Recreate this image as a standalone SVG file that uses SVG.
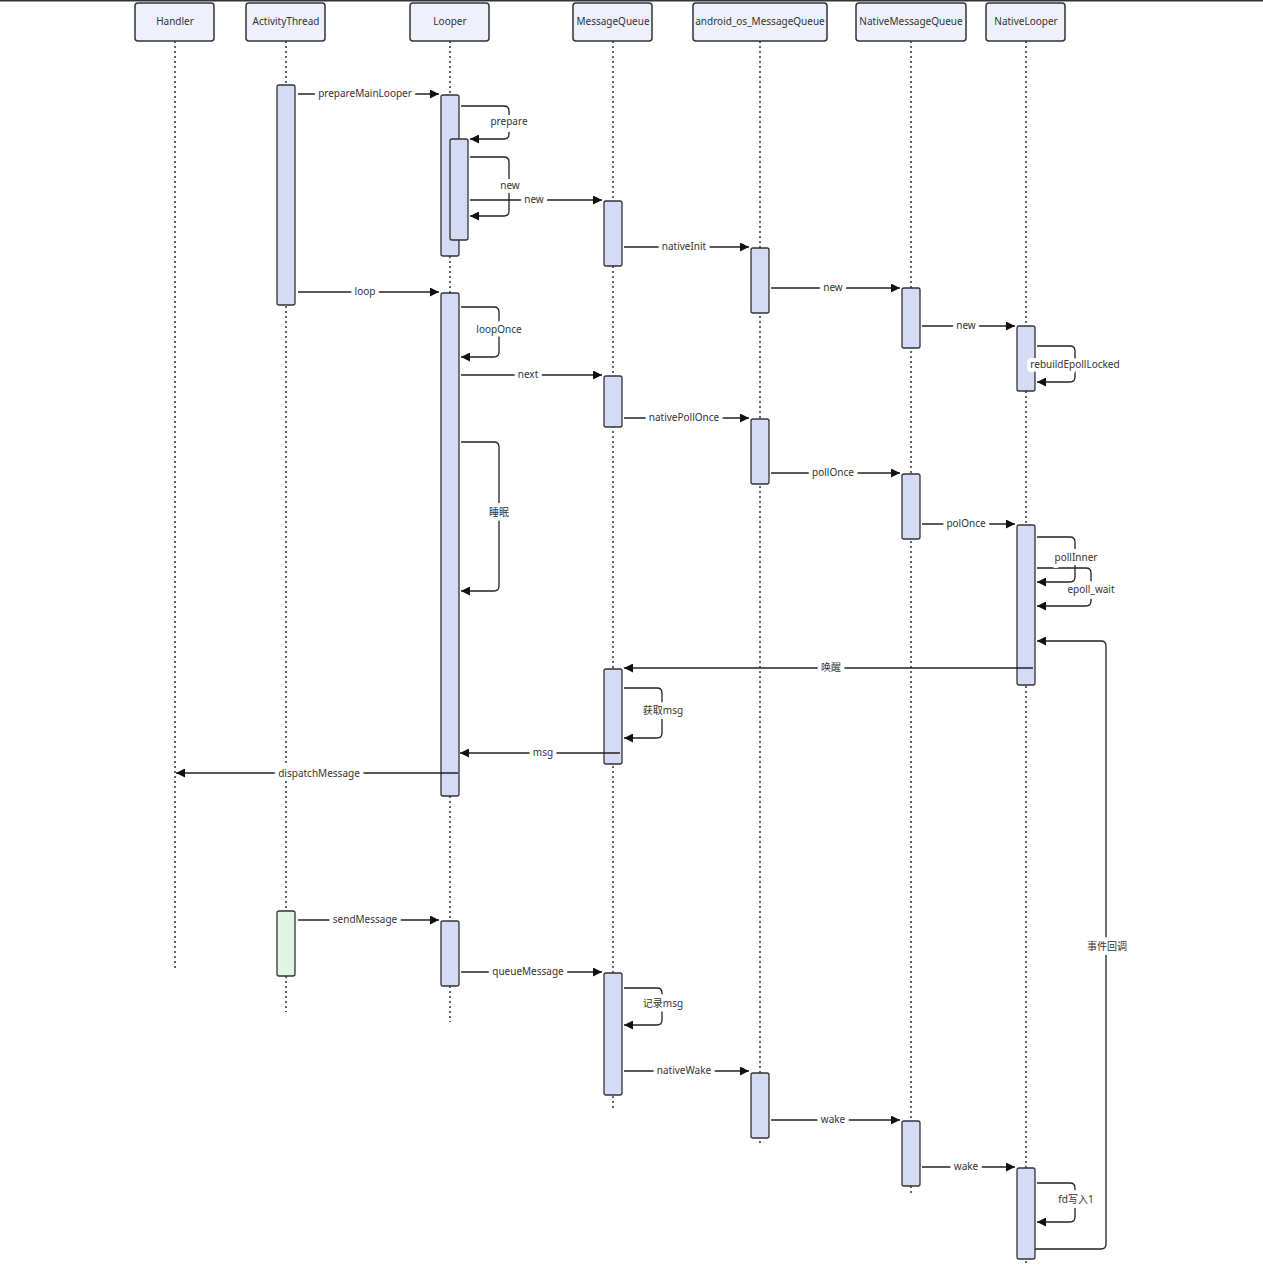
<svg xmlns="http://www.w3.org/2000/svg" width="1263" height="1267" viewBox="0 0 1263 1267">
<style>
.hd{fill:#eef1fb;stroke:#333;stroke-width:1.5}
.ll{stroke:#333;stroke-width:1.5;stroke-dasharray:2 3}
.act{fill:#d5dbf5;stroke:#333;stroke-width:1.3}
.actg{fill:#e2f5e4;stroke:#333;stroke-width:1.3}
.m{fill:none;stroke:#222;stroke-width:1.3;marker-end:url(#ah)}
.ln{fill:none;stroke:#222;stroke-width:1.3}
text{font-family:"Noto Sans","Noto Sans CJK SC",sans-serif;font-size:10px;fill:#333;text-anchor:middle}
.lb{paint-order:stroke;stroke:#fff;stroke-width:8px;stroke-linejoin:round}
</style>
<defs><marker id="ah" viewBox="0 0 10 10" refX="10" refY="5" markerWidth="9" markerHeight="9" markerUnits="userSpaceOnUse" orient="auto"><path d="M0,0L10,5L0,10z" fill="#111"/></marker></defs>
<rect width="1263" height="1267" fill="#fff"/>
<line x1="0" y1="0.5" x2="1263" y2="0.5" stroke="#333" stroke-width="2"/>
<g id="Handler"><line class="ll" x1="175" y1="41" x2="175" y2="968"/><rect class="hd" x="135" y="3" width="79" height="38" rx="3"/><text x="175" y="25">Handler</text></g>
<g id="ActivityThread"><line class="ll" x1="286" y1="41" x2="286" y2="1012"/><rect class="hd" x="246" y="3" width="79" height="38" rx="3"/><text x="286" y="25">ActivityThread</text>
<rect class="act" x="277" y="85" width="18" height="220" rx="2"/><rect class="actg" x="277" y="911" width="18" height="65" rx="2"/></g>
<g id="Looper"><line class="ll" x1="450" y1="41" x2="450" y2="1022"/><rect class="hd" x="410" y="3" width="79" height="38" rx="3"/><text x="450" y="25">Looper</text>
<rect class="act" x="441" y="95" width="18" height="161" rx="2"/><rect class="act" x="450" y="139" width="18" height="101" rx="2"/><rect class="act" x="441" y="293" width="18" height="503" rx="2"/><rect class="act" x="441" y="921" width="18" height="65" rx="2"/></g>
<g id="MessageQueue"><line class="ll" x1="613" y1="41" x2="613" y2="1108"/><rect class="hd" x="573" y="3" width="79" height="38" rx="3"/><text x="613" y="25">MessageQueue</text>
<rect class="act" x="604" y="201" width="18" height="65" rx="2"/><rect class="act" x="604" y="376" width="18" height="51" rx="2"/><rect class="act" x="604" y="669" width="18" height="95" rx="2"/><rect class="act" x="604" y="973" width="18" height="122" rx="2"/></g>
<g id="android_os_MessageQueue"><line class="ll" x1="760" y1="41" x2="760" y2="1145"/><rect class="hd" x="693" y="3" width="134" height="38" rx="3"/><text x="760" y="25">android_os_MessageQueue</text>
<rect class="act" x="751" y="248" width="18" height="65" rx="2"/><rect class="act" x="751" y="419" width="18" height="65" rx="2"/><rect class="act" x="751" y="1073" width="18" height="65" rx="2"/></g>
<g id="NativeMessageQueue"><line class="ll" x1="911" y1="41" x2="911" y2="1193"/><rect class="hd" x="856" y="3" width="110" height="38" rx="3"/><text x="911" y="25">NativeMessageQueue</text>
<rect class="act" x="902" y="288" width="18" height="60" rx="2"/><rect class="act" x="902" y="474" width="18" height="65" rx="2"/><rect class="act" x="902" y="1121" width="18" height="65" rx="2"/></g>
<g id="NativeLooper"><line class="ll" x1="1026" y1="41" x2="1026" y2="1263"/><rect class="hd" x="986" y="3" width="79" height="38" rx="3"/><text x="1026" y="25">NativeLooper</text>
<rect class="act" x="1017" y="326" width="18" height="65" rx="2"/><rect class="act" x="1017" y="525" width="18" height="160" rx="2"/><rect class="act" x="1017" y="1168" width="18" height="91" rx="2"/></g>
<g id="connectors">
<path class="m" d="M298,94H439"/><text class="lb" x="365" y="97">prepareMainLooper</text>
<path class="m" d="M461,106H504q5,0 5,5V134q0,5 -5,5H470"/><text class="lb" x="509" y="125">prepare</text>
<path class="m" d="M470,157H504q5,0 5,5V211q0,5 -5,5H470"/><text class="lb" x="510" y="189">new</text>
<path class="m" d="M470,200H602"/><text class="lb" x="534" y="203">new</text>
<path class="m" d="M624,247H749"/><text class="lb" x="684" y="250">nativeInit</text>
<path class="m" d="M771,288H900"/><text class="lb" x="833" y="291">new</text>
<path class="m" d="M922,326H1015"/><text class="lb" x="966" y="329">new</text>
<path class="m" d="M1037,346H1070q5,0 5,5V377q0,5 -5,5H1037"/><text class="lb" x="1075" y="368">rebuildEpollLocked</text>
<path class="m" d="M298,292H439"/><text class="lb" x="365" y="295">loop</text>
<path class="m" d="M461,307H494q5,0 5,5V352q0,5 -5,5H461"/><text class="lb" x="499" y="333">loopOnce</text>
<path class="m" d="M461,375H602"/><text class="lb" x="528" y="378">next</text>
<path class="m" d="M624,418H749"/><text class="lb" x="684" y="421">nativePollOnce</text>
<path class="m" d="M771,473H900"/><text class="lb" x="833" y="476">pollOnce</text>
<path class="m" d="M922,524H1015"/><text class="lb" x="966" y="527">polOnce</text>
<path class="m" d="M461,442H494q5,0 5,5V586q0,5 -5,5H461"/><text class="lb" x="499" y="516">睡眠</text>
<path class="m" d="M1037,537H1070q5,0 5,5V577q0,5 -5,5H1037"/>
<path class="m" d="M1037,568H1086q5,0 5,5V601q0,5 -5,5H1037"/><text class="lb" x="1076" y="561">pollInner</text><text class="lb" x="1091" y="593">epoll_wait</text>
<path class="m" d="M1035,1249H1101q5,0 5,-5V646q0,-5 -5,-5H1037"/><text class="lb" x="1107" y="950">事件回调</text>
<path class="m" d="M1033,668H624"/><text class="lb" x="831" y="671">唤醒</text>
<path class="m" d="M624,688H657q5,0 5,5V733q0,5 -5,5H624"/><text class="lb" x="663" y="714">获取msg</text>
<path class="m" d="M620,753H460"/><text class="lb" x="543" y="756">msg</text>
<path class="m" d="M458,773H176"/><text class="lb" x="319" y="777">dispatchMessage</text>
<path class="m" d="M298,920H439"/><text class="lb" x="365" y="923">sendMessage</text>
<path class="m" d="M461,972H602"/><text class="lb" x="528" y="975">queueMessage</text>
<path class="m" d="M624,988H657q5,0 5,5V1020q0,5 -5,5H624"/><text class="lb" x="663" y="1007">记录msg</text>
<path class="m" d="M624,1071H749"/><text class="lb" x="684" y="1074">nativeWake</text>
<path class="m" d="M771,1120H900"/><text class="lb" x="833" y="1123">wake</text>
<path class="m" d="M922,1167H1015"/><text class="lb" x="966" y="1170">wake</text>
<path class="m" d="M1037,1183H1070q5,0 5,5V1217q0,5 -5,5H1037"/><text class="lb" x="1076" y="1203">fd写入1</text>
</g>
</svg>
